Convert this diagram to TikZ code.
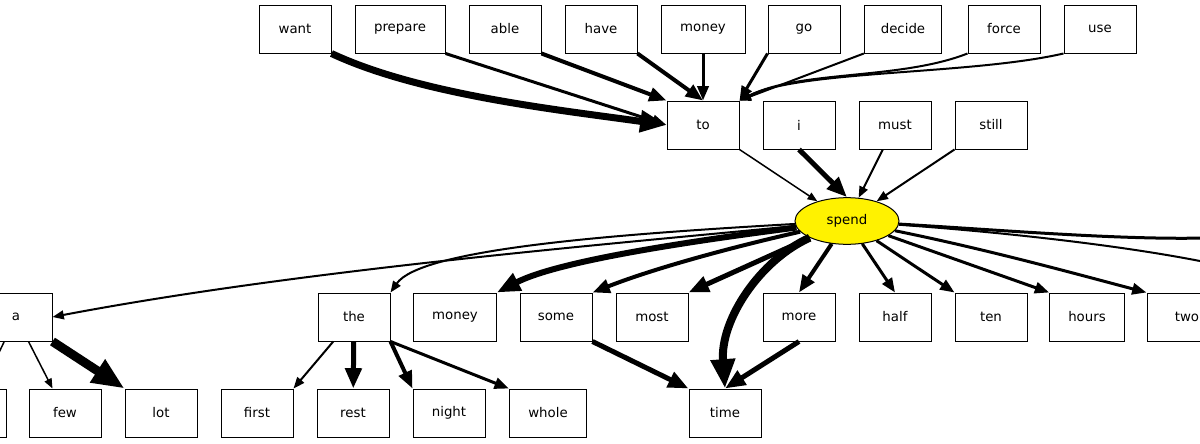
\documentclass[tikz,border=0pt]{standalone}
\usepackage{fontspec}
\setmainfont{DejaVu Sans}
\usetikzlibrary{arrows.meta,shapes.geometric}
\begin{document}
\begin{tikzpicture}[x=0.75pt,y=-0.75pt,
  box/.style={draw,line width=0.75pt,minimum height=36pt,minimum width=54pt,inner sep=0pt,font=\fontsize{10}{12}\selectfont},
  e/.style={line width=#1*0.75pt,-{Triangle[length=4pt+3*#1*0.75pt,width=3pt+2.4*#1*0.75pt]}},
  f/.style={line width=#1*0.75pt}]
\useasboundingbox (0,0) rectangle (1200,443);
\begin{scope}
\clip (0,0) rectangle (1200,443);
\node[box] (want) at (295,29) {want};
\node[box,minimum width=67.5pt] (prepare) at (400,29) {prepare};
\node[box] (able) at (505,29) {able};
\node[box] (have) at (601,29) {have};
\node[box,minimum width=63pt] (money1) at (703,29) {money};
\node[box] (go) at (804,29) {go};
\node[box,minimum width=58pt] (decide) at (903,29) {decide};
\node[box] (force) at (1004,29) {force};
\node[box] (use) at (1100,29) {use};
\node[box] (to) at (703,125) {to};
\node[box] (i) at (799,125) {i};
\node[box] (must) at (895,125) {must};
\node[box] (still) at (991,125) {still};
\node[draw,ellipse,fill=yellow,line width=0.75pt,minimum width=78pt,minimum height=35pt,inner sep=0pt,font=\fontsize{10}{12}\selectfont] (spend) at (847,221) {spend};
\node[box] (a) at (16,317) {a};
\node[box] (the) at (354,317) {the};
\node[box,minimum width=62pt] (money2) at (455,317) {money};
\node[box] (some) at (556,317) {some};
\node[box] (most) at (652,317) {most};
\node[box] (more) at (799,317) {more};
\node[box] (half) at (895,317) {half};
\node[box] (ten) at (991,317) {ten};
\node[box,minimum width=56pt] (hours) at (1087,317) {hours};
\node[box,minimum width=60pt] (two) at (1187,317) {two};
\node[box] (x) at (-30,413) {};
\node[box] (few) at (65,413) {few};
\node[box] (lot) at (161,413) {lot};
\node[box] (first) at (257,413) {first};
\node[box] (rest) at (353,413) {rest};
\node[box] (night) at (449,413) {night};
\node[box,minimum width=58pt] (whole) at (548,413) {whole};
\node[box] (time) at (725,413) {time};
\coordinate (r1) at (1205,238);
\coordinate (r2) at (1205,262);

\draw[e=7] (want.south east) .. controls (420,95) and (560,110) .. (to.west);
\draw[e=3] (prepare.south east) -- (to.west);
\draw[e=4] (able.south east) -- (to.north west);
\draw[e=4] (have.south east) -- (to.north);
\draw[e=3] (money1) -- (to);
\draw[e=3] (go.south west) -- (to.north east);
\draw[e=2] (decide.south west) -- (to.north east);
\draw[e=2] (force.south west) .. controls (900,80) and (800,70) .. (to.north east);
\draw[e=2] (use.south west) .. controls (970,75) and (800,70) .. (to.north east);
\draw[e=1.5] (to.south east) -- (spend);
\draw[e=5] (i.south) -- (spend.north);
\draw[e=2] (must) -- (spend);
\draw[e=2] (still.south west) -- (spend);
\draw[e=2] (spend) .. controls (600,245) and (300,270) .. (a.east);
\draw[e=2] (spend) .. controls (600,235) and (420,250) .. (the.north east);
\draw[e=6] (spend) .. controls (700,240) and (560,260) .. (money2.north east);
\draw[e=4] (spend) .. controls (720,250) and (650,270) .. (some.north east);
\draw[e=5] (spend) -- (most.north east);
\draw[e=8] (spend) .. controls (760,260) and (720,320) .. (time.north);
\draw[e=4] (spend) -- (more.north);
\draw[e=3] (spend) -- (half.north);
\draw[e=3] (spend) -- (ten.north west);
\draw[e=3] (spend) -- (hours.north west);
\draw[e=3] (spend) .. controls (990,250) and (1080,275) .. (two.north west);
\draw[f=3] (spend) .. controls (1000,230) and (1120,240) .. (r1);
\draw[f=2] (spend) .. controls (1000,232) and (1120,245) .. (r2);
\draw[e=1.5] (a) -- (x);
\draw[e=1.5] (a) -- (few);
\draw[e=9] (a.south east) -- (lot.north west);
\draw[e=2] (the) -- (first.north east);
\draw[e=5] (the) -- (rest);
\draw[e=4] (the.south east) -- (night.north west);
\draw[e=3] (the.south east) -- (whole.north west);
\draw[e=5] (some.south east) -- (time.north west);
\draw[e=5] (more.south) -- (time.north);
\end{scope}
\end{tikzpicture}
\end{document}
